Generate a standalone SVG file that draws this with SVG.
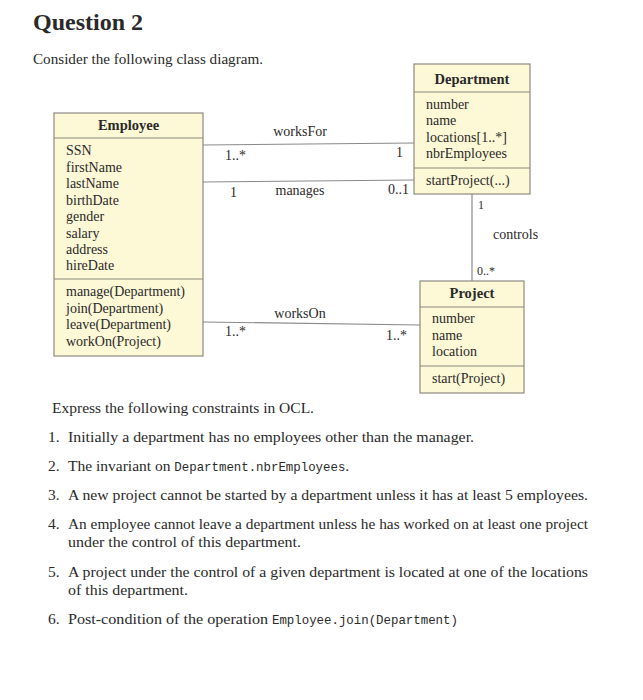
<svg xmlns="http://www.w3.org/2000/svg" width="643" height="700" viewBox="0 0 643 700">
<style>
text{font-family:"Liberation Serif","DejaVu Serif",serif;fill:#2a2a2a}
.box{fill:#fdf8d6;stroke:#8c8a80;stroke-width:1.2}
.sep{stroke:#8c8a80;stroke-width:1.2}
.cn{font-size:14.5px;font-weight:bold;text-anchor:middle}
.at{font-size:14px}
.lbl{font-size:14px}
.ln{stroke:#8a8a8a;stroke-width:1.2;fill:none}
.body{font-size:15.5px}
.mono{font-family:"Liberation Mono","DejaVu Sans Mono",monospace;font-size:12.4px}
</style>
<rect width="643" height="700" fill="#ffffff"/>
<text x="33" y="30" style="font-size:24px;font-weight:bold" textLength="110" lengthAdjust="spacingAndGlyphs">Question 2</text>
<text x="33" y="64" class="body" textLength="230" lengthAdjust="spacingAndGlyphs">Consider the following class diagram.</text>

<g id="connectors">
<line class="ln" x1="203" y1="145" x2="414" y2="143"/>
<line class="ln" x1="203" y1="182" x2="414" y2="180"/>
<line class="ln" x1="203" y1="322" x2="420" y2="325"/>
<line class="ln" x1="472" y1="194" x2="472" y2="281"/>
<text x="300" y="136" class="lbl" text-anchor="middle">worksFor</text>
<text x="225" y="160" class="lbl">1..*</text>
<text x="396" y="157" class="lbl">1</text>
<text x="300" y="195" class="lbl" text-anchor="middle">manages</text>
<text x="230" y="197" class="lbl">1</text>
<text x="388" y="194" class="lbl">0..1</text>
<text x="300" y="318" class="lbl" text-anchor="middle">worksOn</text>
<text x="225" y="336" class="lbl">1..*</text>
<text x="386" y="340" class="lbl">1..*</text>
<text x="478" y="209" class="lbl" style="font-size:12px">1</text>
<text x="493" y="239" class="lbl">controls</text>
<text x="477" y="275" class="lbl" style="font-size:12px">0..*</text>
</g>

<g id="employee">
<rect class="box" x="54" y="113" width="149" height="243"/>
<line class="sep" x1="54" y1="138" x2="203" y2="138"/>
<line class="sep" x1="54" y1="279" x2="203" y2="279"/>
<text x="128.5" y="130" class="cn">Employee</text>
<text x="66" y="155" class="at">SSN</text>
<text x="66" y="171.5" class="at">firstName</text>
<text x="66" y="188" class="at">lastName</text>
<text x="66" y="204.5" class="at">birthDate</text>
<text x="66" y="221" class="at">gender</text>
<text x="66" y="237.5" class="at">salary</text>
<text x="66" y="254" class="at">address</text>
<text x="66" y="270" class="at">hireDate</text>
<text x="66" y="296" class="at">manage(Department)</text>
<text x="66" y="312.5" class="at">join(Department)</text>
<text x="66" y="329" class="at">leave(Department)</text>
<text x="66" y="345.5" class="at">workOn(Project)</text>
</g>

<g id="department">
<rect class="box" x="414" y="64" width="116" height="130"/>
<line class="sep" x1="414" y1="92" x2="530" y2="92"/>
<line class="sep" x1="414" y1="168" x2="530" y2="168"/>
<text x="472" y="84" class="cn">Department</text>
<text x="426" y="108.5" class="at">number</text>
<text x="426" y="125" class="at">name</text>
<text x="426" y="141.5" class="at">locations[1..*]</text>
<text x="426" y="158" class="at">nbrEmployees</text>
<text x="426" y="185" class="at">startProject(...)</text>
</g>

<g id="project">
<rect class="box" x="420" y="281" width="104" height="112"/>
<line class="sep" x1="420" y1="307" x2="524" y2="307"/>
<line class="sep" x1="420" y1="366" x2="524" y2="366"/>
<text x="472" y="298" class="cn">Project</text>
<text x="432" y="323" class="at">number</text>
<text x="432" y="340" class="at">name</text>
<text x="432" y="356" class="at">location</text>
<text x="432" y="383" class="at">start(Project)</text>
</g>

<g id="questions" class="body">
<text x="52" y="413" class="body" textLength="262" lengthAdjust="spacingAndGlyphs">Express the following constraints in OCL.</text>
<text x="48" y="442" class="body">1.</text>
<text x="68" y="442" class="body" textLength="406" lengthAdjust="spacingAndGlyphs">Initially a department has no employees other than the manager.</text>
<text x="48" y="471" class="body">2.</text>
<text x="68" y="471" class="body">The invariant on <tspan class="mono">Department.nbrEmployees</tspan>.</text>
<text x="48" y="500" class="body">3.</text>
<text x="68" y="500" class="body" textLength="520" lengthAdjust="spacingAndGlyphs">A new project cannot be started by a department unless it has at least 5 employees.</text>
<text x="48" y="529" class="body">4.</text>
<text x="68" y="529" class="body" textLength="520" lengthAdjust="spacingAndGlyphs">An employee cannot leave a department unless he has worked on at least one project</text>
<text x="68" y="547" class="body" textLength="233" lengthAdjust="spacingAndGlyphs">under the control of this department.</text>
<text x="48" y="577" class="body">5.</text>
<text x="68" y="577" class="body" textLength="520" lengthAdjust="spacingAndGlyphs">A project under the control of a given department is located at one of the locations</text>
<text x="68" y="595" class="body" textLength="120" lengthAdjust="spacingAndGlyphs">of this department.</text>
<text x="48" y="624" class="body">6.</text>
<text x="68" y="624" class="body" textLength="200" lengthAdjust="spacingAndGlyphs">Post-condition of the operation</text>
<text x="272" y="624" class="mono">Employee.join(Department)</text>
</g>
</svg>
